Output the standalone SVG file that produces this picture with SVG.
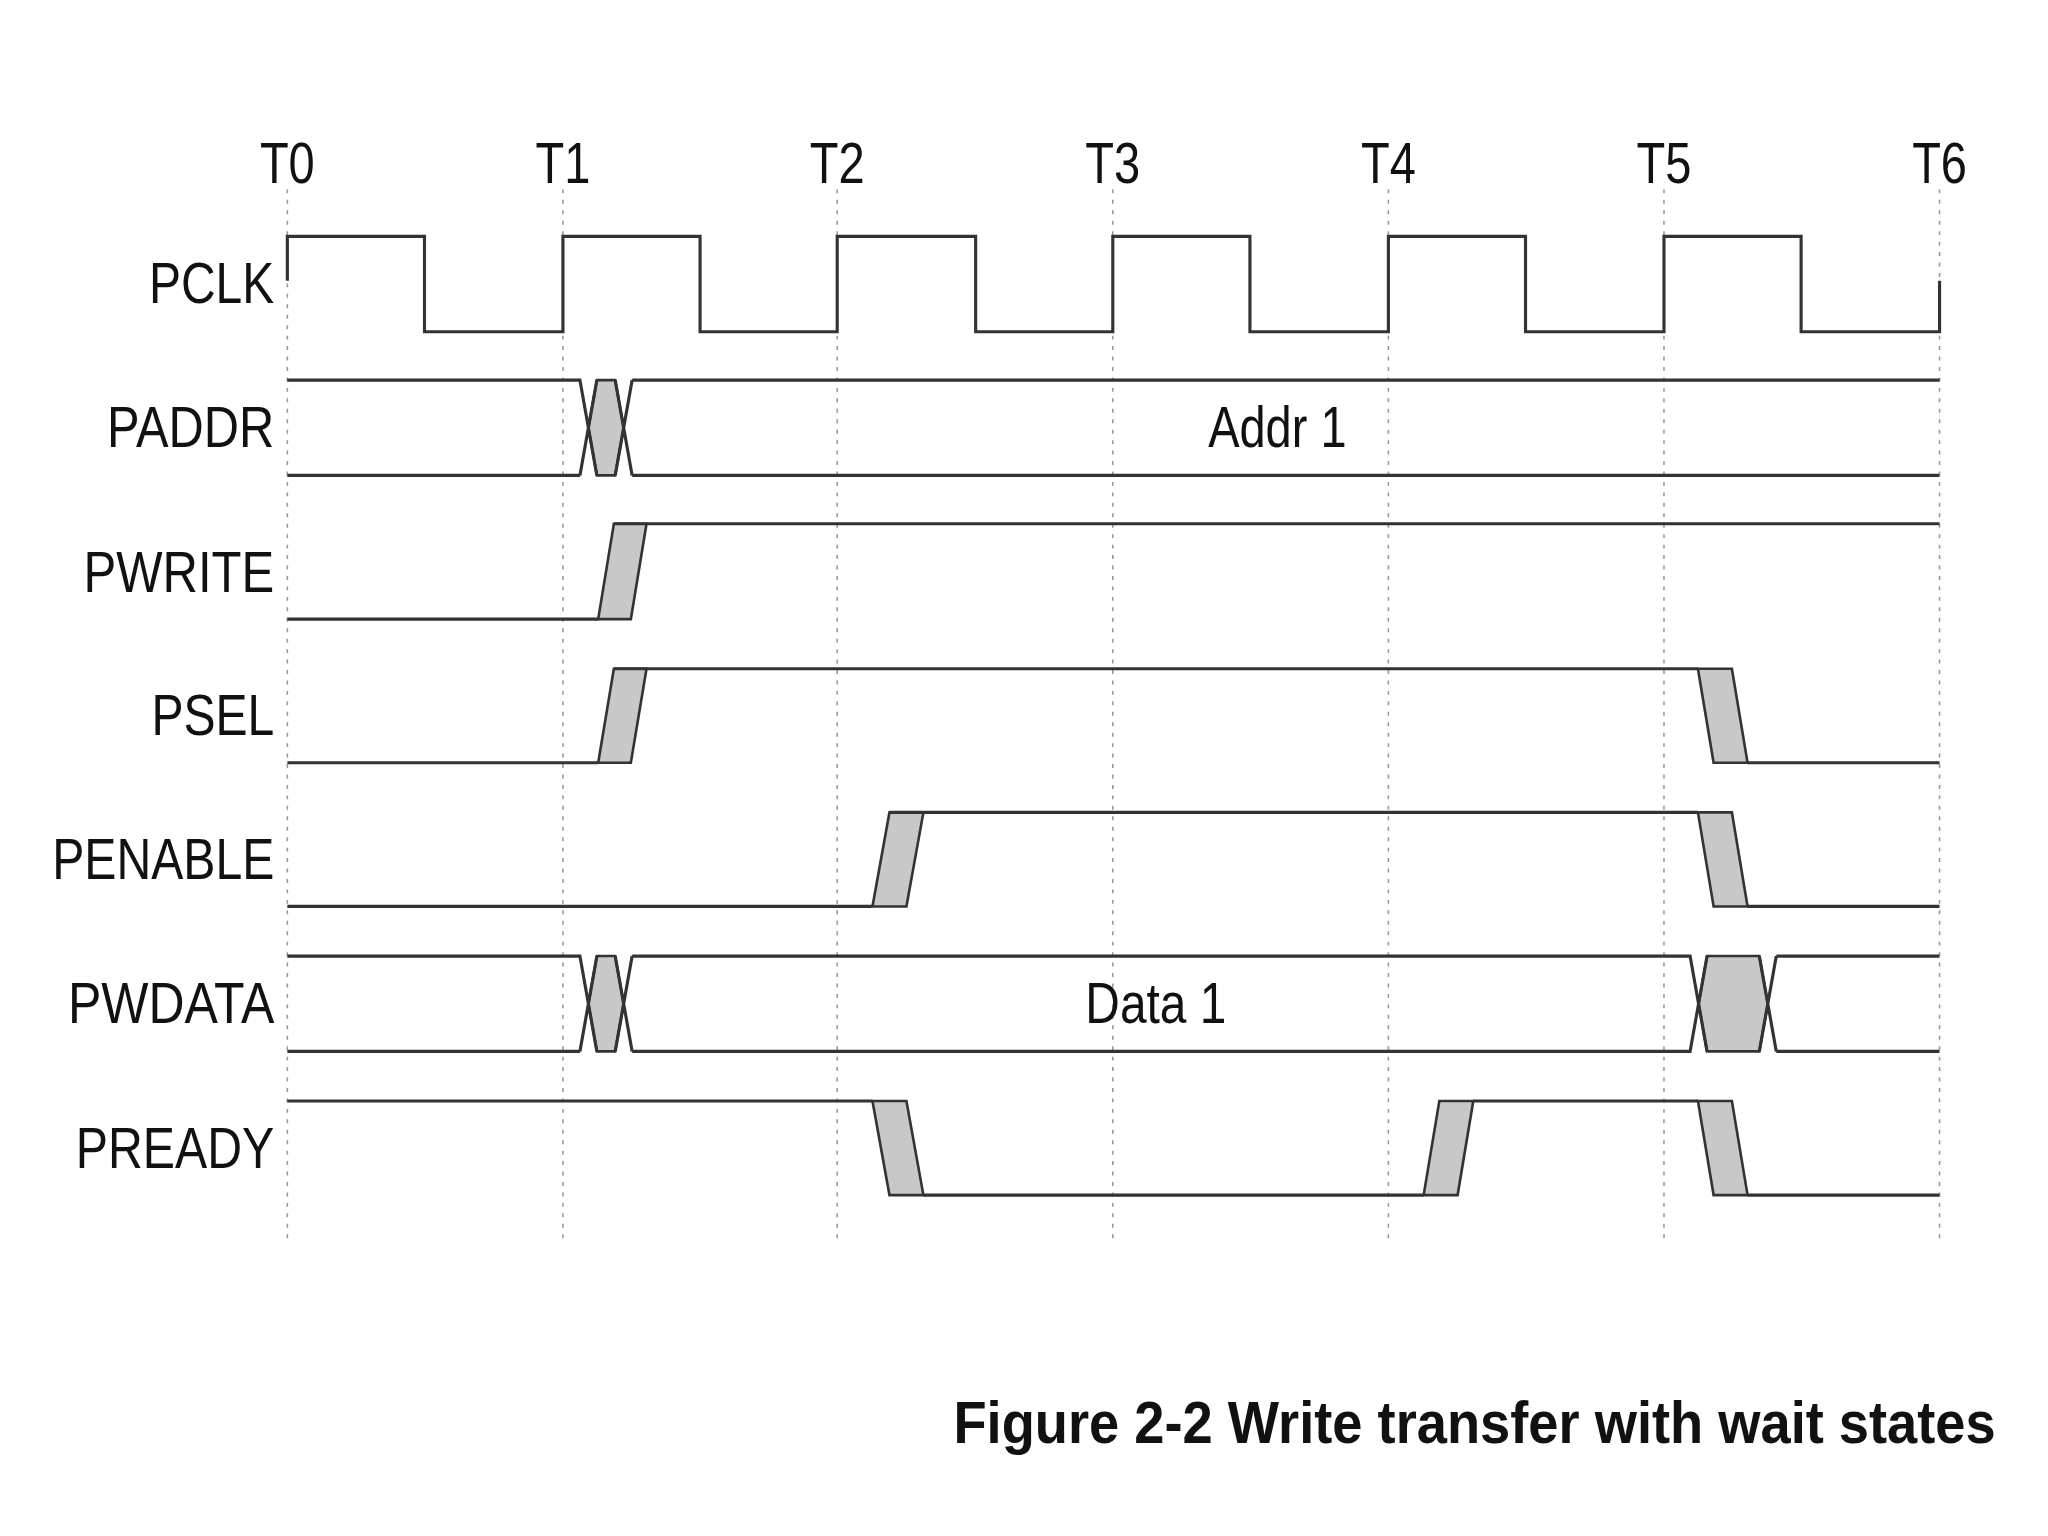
<svg xmlns="http://www.w3.org/2000/svg" width="2048" height="1536" viewBox="0 0 2048 1536">
<style>
.g{stroke:#999;stroke-width:1.2;stroke-dasharray:3 5;fill:none}
.w{stroke:#333;stroke-width:2.4;fill:none;stroke-linejoin:miter}
.t{fill:#c8c8c8;stroke:#333;stroke-width:2}
.lb{font-family:"Liberation Sans",Arial,sans-serif;font-size:44px;fill:#111}
.cap{font-family:"Liberation Sans",Arial,sans-serif;font-size:46px;font-weight:bold;fill:#111}
</style>
<rect width="2048" height="1536" fill="#fff"/>
<g transform="scale(1.3061)">
<g id="grid">
<path class="g" d="M220 145V950M431 145V950M641 145V950M852 145V950M1063 145V950M1274 145V950M1485 145V950"/>
</g>
<g id="times">
<text class="lb" x="220" y="140" text-anchor="middle" textLength="42" lengthAdjust="spacingAndGlyphs">T0</text>
<text class="lb" x="431" y="140" text-anchor="middle" textLength="42" lengthAdjust="spacingAndGlyphs">T1</text>
<text class="lb" x="641" y="140" text-anchor="middle" textLength="42" lengthAdjust="spacingAndGlyphs">T2</text>
<text class="lb" x="852" y="140" text-anchor="middle" textLength="42" lengthAdjust="spacingAndGlyphs">T3</text>
<text class="lb" x="1063" y="140" text-anchor="middle" textLength="42" lengthAdjust="spacingAndGlyphs">T4</text>
<text class="lb" x="1274" y="140" text-anchor="middle" textLength="42" lengthAdjust="spacingAndGlyphs">T5</text>
<text class="lb" x="1485" y="140" text-anchor="middle" textLength="42" lengthAdjust="spacingAndGlyphs">T6</text>
</g>
<g id="labels" text-anchor="end">
<text class="lb" x="210" y="232" textLength="96" lengthAdjust="spacingAndGlyphs">PCLK</text>
<text class="lb" x="210" y="342" textLength="128" lengthAdjust="spacingAndGlyphs">PADDR</text>
<text class="lb" x="210" y="453" textLength="146" lengthAdjust="spacingAndGlyphs">PWRITE</text>
<text class="lb" x="210" y="563" textLength="94" lengthAdjust="spacingAndGlyphs">PSEL</text>
<text class="lb" x="210" y="673" textLength="170" lengthAdjust="spacingAndGlyphs">PENABLE</text>
<text class="lb" x="210" y="783" textLength="158" lengthAdjust="spacingAndGlyphs">PWDATA</text>
<text class="lb" x="210" y="894" textLength="152" lengthAdjust="spacingAndGlyphs">PREADY</text>
</g>
<g id="waves">
<g id="pclk"><path class="w" d="M220 215V181H325V254H431V181H536V254H641V181H747V254H852V181H957V254H1063V181H1168V254H1274V181H1379V254H1485V215"/></g>
<g id="paddr">
<path class="t" d="M457 291H471L477.5 327.5L471 364H457L450.5 327.5Z"/>
<path class="w" d="M220 291H444L457 364M444 364L457 291M220 364H444M471 291L484 364M471 364L484 291M484 291H1485M484 364H1485"/>
<text class="lb" x="978" y="342" text-anchor="middle" textLength="106" lengthAdjust="spacingAndGlyphs">Addr 1</text>
</g>
<g id="pwrite">
<path class="t" d="M458 474H483L495 401H470Z"/>
<path class="w" d="M220 474H458M470 401H1485"/>
</g>
<g id="psel">
<path class="t" d="M458 584H483L495 512H470Z"/>
<path class="t" d="M1300 512H1326L1338 584H1312Z"/>
<path class="w" d="M220 584H458M470 512H1300M1338 584H1485"/>
</g>
<g id="penable">
<path class="t" d="M668 694H694L707 622H681Z"/>
<path class="t" d="M1300 622H1326L1338 694H1312Z"/>
<path class="w" d="M220 694H668M681 622H1300M1338 694H1485"/>
</g>
<g id="pwdata">
<path class="t" d="M457 732H471L477.5 768.5L471 805H457L450.5 768.5Z"/>
<path class="t" d="M1307 732H1347L1353.5 768.5L1347 805H1307L1300.5 768.5Z"/>
<path class="w" d="M220 732H444L457 805M444 805L457 732M220 805H444M471 732L484 805M471 805L484 732M484 732H1294L1307 805M484 805H1294L1307 732M1347 732L1360 805M1347 805L1360 732M1360 732H1485M1360 805H1485"/>
<text class="lb" x="885" y="783" text-anchor="middle" textLength="108" lengthAdjust="spacingAndGlyphs">Data 1</text>
</g>
<g id="pready">
<path class="t" d="M668 843H694L707 915H681Z"/>
<path class="t" d="M1090 915H1116L1128 843H1102Z"/>
<path class="t" d="M1300 843H1326L1338 915H1312Z"/>
<path class="w" d="M220 843H668M707 915H1090M1128 843H1300M1338 915H1485"/>
</g>
</g>
<text class="cap" x="1528" y="1105" text-anchor="end" textLength="798" lengthAdjust="spacingAndGlyphs">Figure 2-2 Write transfer with wait states</text>
</g>
</svg>
